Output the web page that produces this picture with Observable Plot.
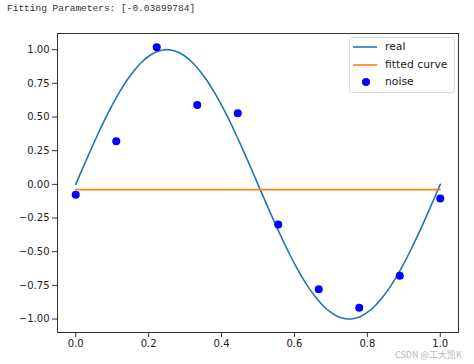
<!DOCTYPE html>
<html>
<head>
<meta charset="utf-8">
<script src="https://cdn.jsdelivr.net/npm/d3@7"></script>
<script src="https://cdn.jsdelivr.net/npm/@observablehq/plot@0.6"></script>
<style>
  html, body { margin: 0; padding: 0; background: #fff; }
  #wrap { position: relative; width: 474px; height: 364px; overflow: hidden; }
  #title { height: 22px; font-family: "Liberation Mono", "DejaVu Sans Mono", monospace; font-size: 9.5px; color: #333; padding-left: 7px; line-height: 17px; white-space: pre; }
  #legend { position: absolute; left: 349px; top: 37px; width: 106px; height: 56px; border: 1px solid #d9d9d9; border-radius: 3px; background: rgba(255,255,255,0.85); box-sizing: border-box; font-family: "DejaVu Sans", sans-serif; font-size: 10.8px; color: #222; }
  .item { position: absolute; left: 0; height: 14px; width: 100%; }
  .item svg { position: absolute; left: 2px; top: 0; }
  .item span { position: absolute; left: 35px; top: 0; line-height: 14px; }
  #wm { position: absolute; left: 395px; top: 350px; line-height: 10px; font-family: "Noto Sans CJK SC", "DejaVu Sans", sans-serif; font-size: 9px; color: #b8b8b8; white-space: nowrap; }
</style>
</head>
<body>
<div id="wrap">
  <div id="title"></div>
  <div id="chart"></div>
  <div id="legend"></div>
  <div id="wm">CSDN @工大凯K</div>
</div>
<script>
// Fitted parameter
const fitParams = [-0.03899784];

// Real curve samples (x, y)
const realX = [0,0.02,0.04,0.06,0.08,0.10,0.12,0.14,0.16,0.18,0.20,0.22,0.24,0.26,0.28,0.30,0.32,0.34,0.36,0.38,0.40,0.42,0.44,0.46,0.48,0.50,0.52,0.54,0.56,0.58,0.60,0.62,0.64,0.66,0.68,0.70,0.72,0.74,0.76,0.78,0.80,0.82,0.84,0.86,0.88,0.90,0.92,0.94,0.96,0.98,1.00];
const realY = [0,0.1253,0.2487,0.3681,0.4818,0.5878,0.6845,0.7705,0.8443,0.9048,0.9511,0.9823,0.9980,0.9980,0.9823,0.9511,0.9048,0.8443,0.7705,0.6845,0.5878,0.4818,0.3681,0.2487,0.1253,0,-0.1253,-0.2487,-0.3681,-0.4818,-0.5878,-0.6845,-0.7705,-0.8443,-0.9048,-0.9511,-0.9823,-0.9980,-0.9980,-0.9823,-0.9511,-0.9048,-0.8443,-0.7705,-0.6845,-0.5878,-0.4818,-0.3681,-0.2487,-0.1253,0];

// Noise samples
const noiseX = [0, 0.1111, 0.2222, 0.3333, 0.4444, 0.5556, 0.6667, 0.7778, 0.8889, 1.0];
const noiseY = [-0.077, 0.32, 1.018, 0.59, 0.528, -0.298, -0.778, -0.916, -0.679, -0.105];

// Fitted curve endpoints
const fitX = [0, 1];

// Ticks
const xTicks = [0, 0.2, 0.4, 0.6, 0.8, 1.0];
const yTicks = [-1, -0.75, -0.5, -0.25, 0, 0.25, 0.5, 0.75, 1];

// Legend
const legendLabels = ["real", "fitted curve", "noise"];
const colors = { real: "#1f77b4", fit: "#ff7f0e", noise: "#0000ff" };

document.getElementById("title").textContent = `Fitting Parameters: [${fitParams.map(v => v.toFixed(8)).join(", ")}]`;

const realData = realX.map((x, i) => ({ x, y: realY[i] }));
const noiseData = noiseX.map((x, i) => ({ x, y: noiseY[i] }));
const fitData = fitX.map(x => ({ x, y: fitParams[0] }));

const fmtY = v => (v < 0 ? "\u2212" : "") + Math.abs(v).toFixed(2);
const fmtX = v => v.toFixed(1);

const chart = Plot.plot({
  width: 474,
  height: 342,
  marginLeft: 57,
  marginRight: 16,
  marginTop: 11,
  marginBottom: 32,
  style: { fontFamily: "DejaVu Sans, sans-serif", fontSize: "10px", color: "#222", background: "#fff" },
  x: { domain: [-0.05, 1.05], ticks: xTicks, tickFormat: fmtX, tickSize: 5, tickPadding: 3, label: null },
  y: { domain: [-1.1, 1.12], ticks: yTicks, tickFormat: fmtY, tickSize: 5, tickPadding: 3, label: null },
  marks: [
    Plot.frame({ stroke: "#333", strokeWidth: 1 }),
    Plot.axisX({ ticks: xTicks, tickFormat: fmtX, tickSize: 5, tickPadding: 2, stroke: "#333", label: null }),
    Plot.axisY({ ticks: yTicks, tickFormat: fmtY, tickSize: 5, tickPadding: 3, stroke: "#333", label: null }),
    Plot.line(realData, { x: "x", y: "y", stroke: colors.real, strokeWidth: 1.6, curve: "catmull-rom" }),
    Plot.line(fitData, { x: "x", y: "y", stroke: colors.fit, strokeWidth: 1.6 }),
    Plot.dot(noiseData, { x: "x", y: "y", r: 4, fill: colors.noise, stroke: "none" })
  ]
});
document.getElementById("chart").appendChild(chart);

// Legend
const legend = document.getElementById("legend");
const swatches = [
  `<svg width="26" height="14"><line x1="1" x2="25" y1="7" y2="7" stroke="${colors.real}" stroke-width="1.6"/></svg>`,
  `<svg width="26" height="14"><line x1="1" x2="25" y1="7" y2="7" stroke="${colors.fit}" stroke-width="1.6"/></svg>`,
  `<svg width="26" height="14"><circle cx="14" cy="7" r="4" fill="${colors.noise}"/></svg>`
];
const tops = [2, 19.5, 37];
legendLabels.forEach((lab, i) => {
  const d = document.createElement("div");
  d.className = "item";
  d.style.top = tops[i] + "px";
  d.innerHTML = swatches[i] + `<span>${lab}</span>`;
  legend.appendChild(d);
});
</script>
</body>
</html>
